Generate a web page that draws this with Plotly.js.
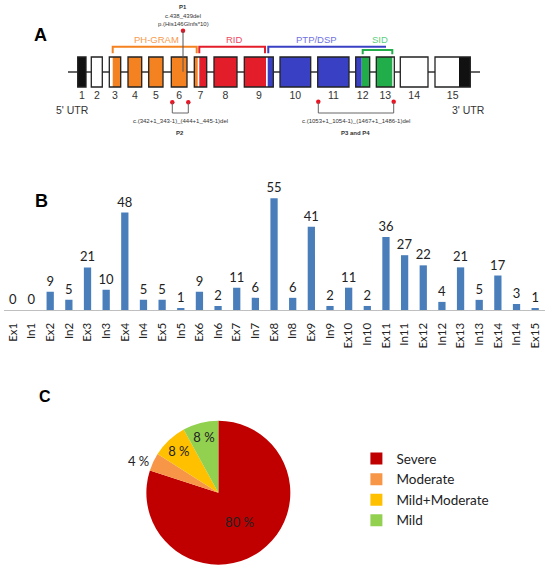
<!DOCTYPE html>
<html>
<head>
<meta charset="utf-8">
<script src="https://cdn.plot.ly/plotly-3.0.1.min.js"></script>
<style>html,body{margin:0;padding:0;background:#fff;}#chart{width:550px;height:572px;}</style>
</head>
<body>
<div id="chart"></div>
<script>
// ---------- Panel A: gene structure (diagram units) ----------
const exonNames = ['1','2','3','4','5','6','7','8','9','10','11','12','13','14','15'];
const exonStart = [77.7, 91.3, 109.3, 128, 148.7, 171.3, 194.3, 214, 244.3, 280, 317.7, 355.7, 376.3, 400.3, 435];
const exonEnd   = [86, 102.3, 120.7, 141.7, 163, 187, 206.7, 237, 273.3, 310.7, 349, 369.7, 394.3, 428, 470.3];
const geneStart = 68, geneEnd = 480;
const fillStart = [77.7, 459, 112.7, 128, 148.7, 171.3, 194.3, 199.3, 214, 244.3, 267.7, 280, 317.7, 355.7, 361.7, 376.3];
const fillEnd   = [86, 470.3, 120.7, 141.7, 163, 187, 197.7, 206.7, 237, 266, 273.3, 310.7, 349, 361.7, 369.7, 392.3];
const fillKind  = ['UTR','UTR','PH-GRAM','PH-GRAM','PH-GRAM','PH-GRAM','PH-GRAM','RID','RID','RID','PTP/DSP','PTP/DSP','PTP/DSP','PTP/DSP','SID','SID'];
const domainNames = ['PH-GRAM','RID','PTP/DSP','SID'];
const domainStart = [112.7, 199.3, 268.3, 362.7];
const domainEnd   = [196.7, 265, 386, 392.3];
const p1Pos = 183;
const p1Text = ['c.438_439del','p.(His146Glnfs*10)'];
const p2Range = [172.3, 188.3];
const p2Text = 'c.(342+1_343-1)_(444+1_445-1)del';
const p34Range = [318.3, 393.7];
const p34Text = 'c.(1053+1_1054-1)_(1467+1_1486-1)del';

// ---------- Panel B: variants per exon/intron ----------
const regions = ['Ex1','In1','Ex2','In2','Ex3','In3','Ex4','In4','Ex5','In5','Ex6','In6','Ex7','In7','Ex8','In8','Ex9','In9','Ex10','In10','Ex11','In11','Ex12','In12','Ex13','In13','Ex14','In14','Ex15'];
const counts  = [0,0,9,5,21,10,48,5,5,1,9,2,11,6,55,6,41,2,11,2,36,27,22,4,21,5,17,3,1];

// ---------- Panel C: severity ----------
const severity = ['Severe','Moderate','Mild+Moderate','Mild'];
const severityPct = [80,4,8,8];

// ---------- styles ----------
const kindColor = {'UTR':'#111111','PH-GRAM':'#f58220','RID':'#e31e2a','PTP/DSP':'#3a40c4','SID':'#21ad4a'};
const domainLine = {'PH-GRAM':'#f58220','RID':'#e31e2a','PTP/DSP':'#3a40c4','SID':'#21ad4a'};
const domainLabel = {'PH-GRAM':'#f79b50','RID':'#ef4a62','PTP/DSP':'#6f74e2','SID':'#5ccf7c'};
const boxTop = 57, boxBot = 87, lineY = 72, numY = 96.7;

const shapes = [];
shapes.push({type:'line', xref:'x2', yref:'y2', x0:geneStart, x1:geneEnd, y0:lineY, y1:lineY, line:{color:'#333', width:1.5}, layer:'below'});
exonNames.forEach((n,i)=>{
  shapes.push({type:'rect', xref:'x2', yref:'y2', x0:exonStart[i], x1:exonEnd[i], y0:boxTop, y1:boxBot, fillcolor:'#ffffff', line:{width:0}});
});
fillKind.forEach((k,i)=>{
  shapes.push({type:'rect', xref:'x2', yref:'y2', x0:fillStart[i], x1:fillEnd[i], y0:boxTop, y1:boxBot, fillcolor:kindColor[k], line:{width:0}});
});
exonNames.forEach((n,i)=>{
  shapes.push({type:'rect', xref:'x2', yref:'y2', x0:exonStart[i], x1:exonEnd[i], y0:boxTop, y1:boxBot, fillcolor:'rgba(0,0,0,0)', line:{color:'#222', width:1.3}});
});
domainNames.forEach((d,i)=>{
  const y = d==='SID' ? 50 : 46.7;
  const yt = d==='SID' ? 54.3 : 53.3;
  const x0 = domainStart[i], x1 = domainEnd[i];
  const path = d==='PTP/DSP'
    ? `M ${x0} ${yt} L ${x0} ${y} L ${x1} ${y}`
    : `M ${x0} ${yt} L ${x0} ${y} L ${x1} ${y} L ${x1} ${yt}`;
  shapes.push({type:'path', xref:'x2', yref:'y2', path:path, line:{color:domainLine[d], width:2}});
});
shapes.push({type:'line', xref:'x2', yref:'y2', x0:p1Pos, x1:p1Pos, y0:30.7, y1:71.7, line:{color:'#555', width:1}});
[p2Range, p34Range].forEach(r=>{
  shapes.push({type:'path', xref:'x2', yref:'y2', path:`M ${r[0]} 102.3 L ${r[0]} 113 L ${r[1]} 113 L ${r[1]} 102.3`, line:{color:'#666', width:1}});
});

const annFont = {family:'Liberation Sans, Arial', size:6, color:'#333'};
const annotations = [
  {text:'<b>A</b>', xref:'paper', yref:'paper', x:31.7/550, y:1-22.7/572, showarrow:false, font:{family:'Liberation Sans, Arial', size:18, color:'#000'}},
  {text:'<b>B</b>', xref:'paper', yref:'paper', x:33/550, y:1-189/572, showarrow:false, font:{family:'Liberation Sans, Arial', size:18, color:'#000'}},
  {text:'<b>C</b>', xref:'paper', yref:'paper', x:36.7/550, y:1-406.7/572, showarrow:false, font:{family:'Liberation Sans, Arial', size:16, color:'#000'}},
  {text:"5' UTR", xref:'x2', yref:'y2', x:72, y:109.5, showarrow:false, font:{family:'Liberation Sans, Arial', size:10.5, color:'#333'}},
  {text:"3' UTR", xref:'x2', yref:'y2', x:468, y:109.5, showarrow:false, font:{family:'Liberation Sans, Arial', size:10.5, color:'#333'}},
  {text:'<b>P1</b>', xref:'x2', yref:'y2', x:p1Pos, y:6.7, showarrow:false, font:annFont},
  {text:p1Text[0], xref:'x2', yref:'y2', x:p1Pos, y:16.3, showarrow:false, font:annFont},
  {text:p1Text[1], xref:'x2', yref:'y2', x:p1Pos, y:24, showarrow:false, font:annFont},
  {text:p2Text, xref:'x2', yref:'y2', x:(p2Range[0]+p2Range[1])/2, y:121.3, showarrow:false, font:annFont},
  {text:'<b>P2</b>', xref:'x2', yref:'y2', x:(p2Range[0]+p2Range[1])/2, y:133.3, showarrow:false, font:annFont},
  {text:p34Text, xref:'x2', yref:'y2', x:(p34Range[0]+p34Range[1])/2 - 0.5, y:121, showarrow:false, font:annFont},
  {text:'<b>P3 and P4</b>', xref:'x2', yref:'y2', x:(p34Range[0]+p34Range[1])/2 - 0.5, y:133.3, showarrow:false, font:annFont}
];
domainNames.forEach((d,i)=>{
  const cx = d==='PTP/DSP' ? domainStart[i] + (domainEnd[i]-domainStart[i])*0.41 : (domainStart[i]+domainEnd[i])/2 + 2;
  annotations.push({text:d, xref:'x2', yref:'y2', x:cx, y:39.3, showarrow:false, font:{family:'Liberation Sans, Arial', size:9.5, color:domainLabel[d]}});
});

const traces = [
  {type:'bar', x:regions, y:counts, xaxis:'x', yaxis:'y', marker:{color:'#4a7ebb'},
   text:counts.map(String), textposition:'outside', cliponaxis:false, constraintext:'none',
   textfont:{family:'Lato, Carlito, sans-serif', size:13, color:'#222'}, showlegend:false, hoverinfo:'x+y'},
  {type:'scatter', mode:'text', x:exonStart.map((s,i)=>(s+exonEnd[i])/2), y:exonNames.map(()=>numY), text:exonNames,
   xaxis:'x2', yaxis:'y2', textfont:{family:'Liberation Sans, Arial', size:10.5, color:'#333'}, showlegend:false, hoverinfo:'skip'},
  {type:'scatter', mode:'markers', x:[p1Pos, p2Range[0], p2Range[1], p34Range[0], p34Range[1]], y:[30.7,102.3,102.3,101.7,101.7],
   xaxis:'x2', yaxis:'y2', marker:{color:'#ee1122', size:4.5}, showlegend:false, hoverinfo:'skip'},
  {type:'pie', labels:severity, values:severityPct, sort:false, direction:'clockwise', rotation:0,
   marker:{colors:['#c00000','#f79646','#ffc000','#92d050']},
   texttemplate:'%{value} %', textposition:['inside','outside','inside','inside'], insidetextorientation:'horizontal',
   textfont:{family:'Lato, Carlito, sans-serif', size:13, color:'#222'},
   domain:{x:[0.266,0.528], y:[0.0128,0.2645]}, hoverinfo:'label+percent'}
];

const layout = {
  width:550, height:572, margin:{l:0,r:0,t:0,b:0},
  paper_bgcolor:'#fff', plot_bgcolor:'rgba(0,0,0,0)',
  bargap:0.61,
  xaxis:{domain:[0.0065,0.990], type:'category', anchor:'y', tickangle:-90, showline:true, linecolor:'#bfbfbf', linewidth:1.2,
         ticks:'', showgrid:false, zeroline:false, tickfont:{family:'Lato, Carlito, sans-serif', size:11.5, color:'#222'}, ticklabelstandoff:7, fixedrange:true},
  yaxis:{domain:[0.458,0.671], range:[0,60], anchor:'x', visible:false, showgrid:false, zeroline:false, fixedrange:true},
  xaxis2:{domain:[0,1], range:[0,550], anchor:'y2', visible:false, showgrid:false, zeroline:false, fixedrange:true},
  yaxis2:{domain:[1-150/572,1], range:[150,0], anchor:'x2', visible:false, showgrid:false, zeroline:false, fixedrange:true},
  shapes:shapes, annotations:annotations,
  showlegend:true,
  legend:{x:0.648, xanchor:'left', y:0.225, yanchor:'top', font:{family:'Lato, Carlito, sans-serif', size:13.5, color:'#222'}, itemwidth:30, tracegroupgap:0, bgcolor:'rgba(0,0,0,0)'}
};

Plotly.newPlot('chart', traces, layout, {displayModeBar:false, staticPlot:true});
</script>
</body>
</html>
